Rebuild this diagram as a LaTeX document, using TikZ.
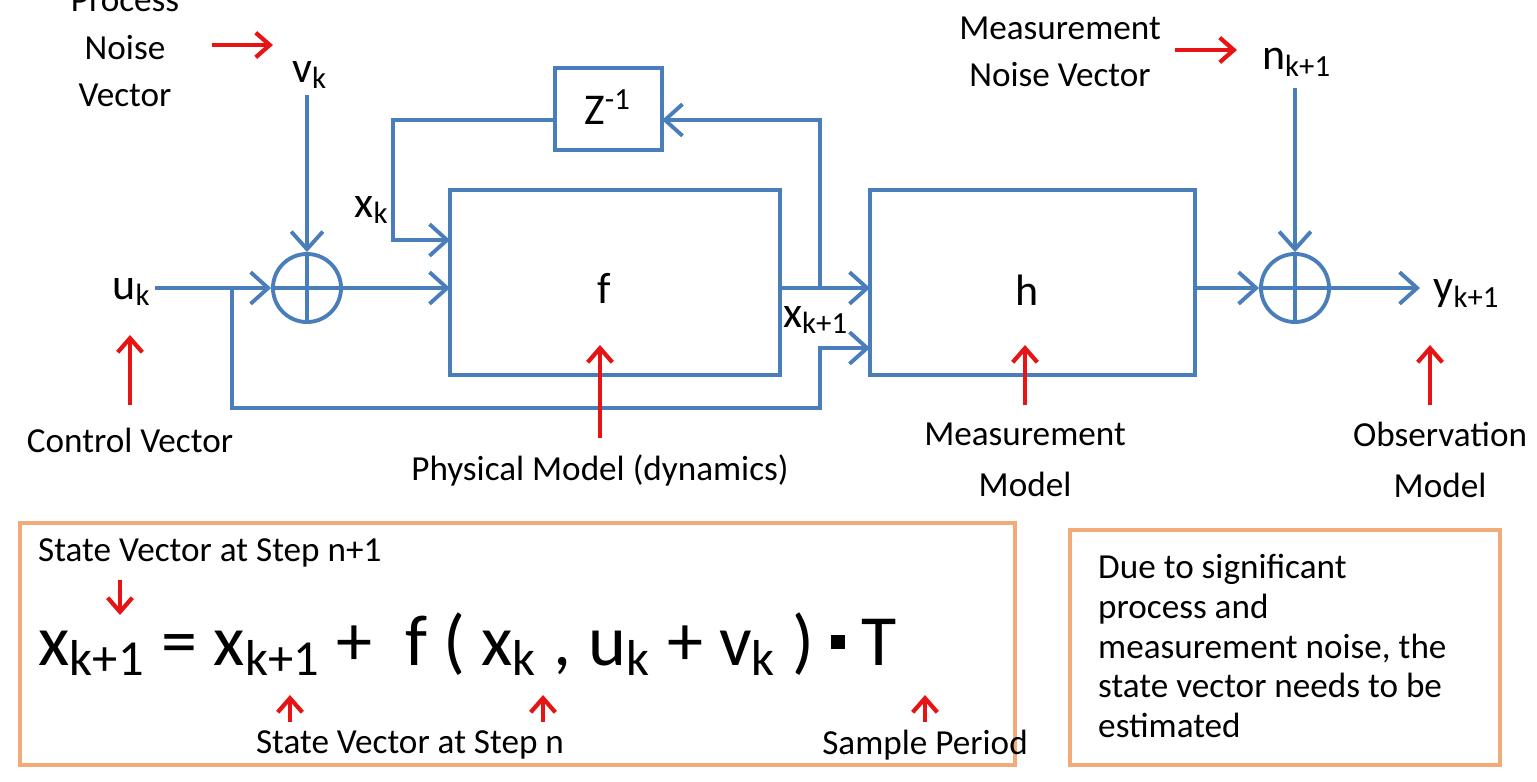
\documentclass[tikz,border=0pt]{standalone}
\usepackage{fontspec}
\setmainfont{Carlito}
\usetikzlibrary{arrows.meta}
\definecolor{bl}{RGB}{74,126,187}
\definecolor{rd}{RGB}{230,20,20}
\definecolor{or}{RGB}{242,170,120}
\newcommand{\lsb}[1]{\textsubscript{#1}}
\begin{document}
\begin{tikzpicture}[x=0.01cm,y=-0.01cm,
  wire/.style={bl,line width=1.1pt},
  arr/.style={wire,-{Straight Barb[length=5pt,width=9pt]}},
  rarr/.style={rd,line width=1.2pt,-{Straight Barb[length=4pt,width=7pt]}},
  lab/.style={font=\fontsize{10}{11.5}\selectfont,align=center,inner sep=1pt},
  sym/.style={font=\fontsize{12.5}{14}\selectfont,inner sep=1pt},
  obox/.style={draw=or,line width=1.1pt}]
\useasboundingbox (0,0) rectangle (1537,781);
% blocks
\draw[wire] (555,68) rectangle (662,150);
\coordinate (zl) at (555,120); \coordinate (zr) at (662,120);
\node[sym] (zt) at (608,107) {Z\textsuperscript{-1}};
\draw[wire] (450,190) rectangle (780,375);
\coordinate (fl1) at (450,240); \coordinate (fl2) at (450,288); \coordinate (fr) at (780,288);
\node[sym] (f) at (604,288) {f};
\draw[wire] (870,190) rectangle (1195,375);
\coordinate (hl1) at (870,288); \coordinate (hl2) at (870,348); \coordinate (hr) at (1195,288);
\node[sym] (h) at (1027,290) {h};
% summing junctions
\node[draw=bl,line width=1.1pt,circle,minimum size=0.68cm,inner sep=0] (s1) at (307,288) {};
\draw[wire] (s1.north)--(s1.south) (s1.west)--(s1.east);
\node[draw=bl,line width=1.1pt,circle,minimum size=0.68cm,inner sep=0] (s2) at (1295,288) {};
\draw[wire] (s2.north)--(s2.south) (s2.west)--(s2.east);
% symbols
\node[sym] (u) at (132,292) {u\lsb{k}};
\node[sym] (v) at (310,75) {v\lsb{k}};
\node[sym] (xk) at (372,210) {x\lsb{k}};
\node[sym] (xk1) at (816,320) {x\lsb{k+1}};
\node[sym] (n) at (1297,62) {n\lsb{k+1}};
\node[sym] (y) at (1467,294) {y\lsb{k+1}};
% wires
\coordinate (b1) at (232,288);
\coordinate (uo) at (155,288);
\draw[arr] (uo) -- (s1.west);
\draw[arr] (307,95) -- (s1.north);
\draw[arr] (s1.east) -- (fl2);
\draw[arr] (zl) -- (393,120) -- (393,240) -- (fl1);
\coordinate (b2) at (820,288);
\draw[arr] (fr) -- (hl1);
\draw[arr] (b2) -- (820,120) -- (zr);
\draw[arr] (b1) -- (232,408) -- (820,408) -- (820,348) -- (hl2);
\draw[arr] (hr) -- (s2.west);
\draw[arr] (1295,88) -- (s2.north);
\draw[arr] (s2.east) -- (1420,288);
% labels
\node[lab] (pnv) at (125,48) {Process\\[2pt]Noise\\[2pt]Vector};
\coordinate (va) at (273,45);
\draw[rarr] (212,45) -- (va);
\node[lab] (mnv) at (1060,52) {Measurement\\[2pt]Noise Vector};
\coordinate (na) at (1237,50);
\draw[rarr] (1175,50) -- (na);
\node[lab] (cv) at (130,440) {Control Vector};
\draw[rarr] (130,405) -- (130,335);
\node[lab] (pm) at (600,470) {Physical Model (dynamics)};
\draw[rarr] (600,438) -- (600,345);
\node[lab] (mm) at (1025,460) {Measurement\\[3pt]Model};
\draw[rarr] (1025,405) -- (1025,345);
\node[lab] (om) at (1440,460) {Observation\\[3pt]Model};
\draw[rarr] (1430,405) -- (1430,345);
% bottom boxes
\draw[obox] (20,523) rectangle (1015,765);
\draw[obox] (1070,530) rectangle (1500,765);
\node[lab,align=left,anchor=north west,font=\fontsize{10}{11.3}\selectfont] (txt) at (1094,550)
  {Due to significant\\process and\\measurement noise, the\\state vector needs to be\\estimated};
\node[lab,anchor=west] (s1l) at (34,553) {State Vector at Step n+1};
\draw[rarr] (120,580) -- (120,615);
\node[anchor=base west,inner sep=0,font=\fontsize{20.5}{24}\selectfont] (eq) at (38,665)
  {x\lsb{k+1} = x\lsb{k+1} + \ f ( x\lsb{k} , u\lsb{k} + v\lsb{k} ) \raisebox{0.22em}{\rule{0.2em}{0.2em}} T};
\draw[rarr] (290,722) -- (290,695);
\draw[rarr] (543,722) -- (543,695);
\draw[rarr] (925,722) -- (925,695);
\node[lab] (s2l) at (410,745) {State Vector at Step n};
\node[lab] (sp) at (925,745) {Sample Period};
\end{tikzpicture}
\end{document}
